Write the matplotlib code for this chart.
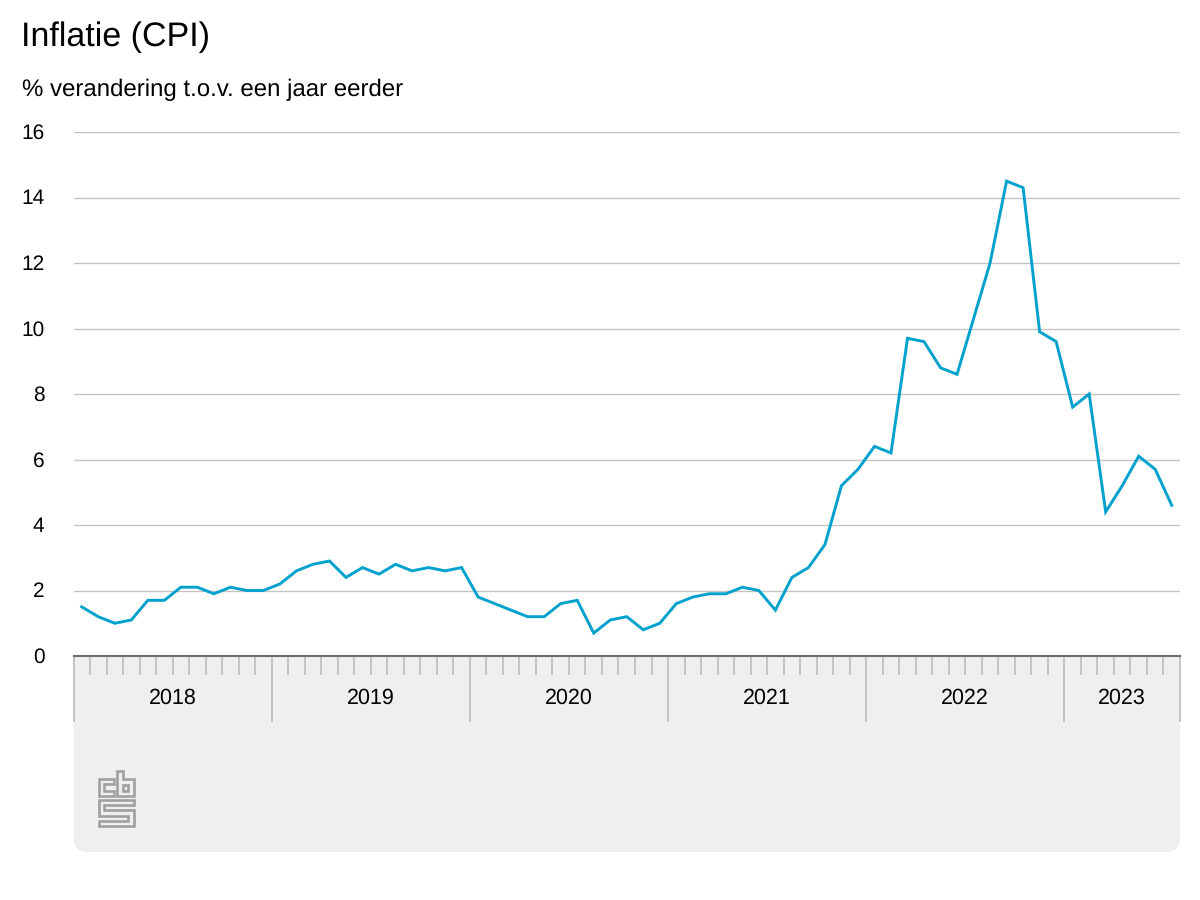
import matplotlib
import matplotlib.pyplot as plt
import numpy as np
from matplotlib.patches import PathPatch
from matplotlib.path import Path
from matplotlib.transforms import Affine2D, ScaledTranslation

plt.switch_backend("agg")
plt.rcParams["font.family"] = ["Liberation Sans", "DejaVu Sans"]
plt.rcParams["text.hinting"] = "no_hinting"

W, H = 1200, 900
LEFT, RIGHT, TOP, BOTTOM = 73.5, 1180.0, 132.0, 656.0

GRID = "#c4c4c4"
BAND = "#efefef"
LINE = "#00a1cd"

CPI = {
    2018: [1.5, 1.2, 1.0, 1.1, 1.7, 1.7, 2.1, 2.1, 1.9, 2.1, 2.0, 2.0],
    2019: [2.2, 2.6, 2.8, 2.9, 2.4, 2.7, 2.5, 2.8, 2.6, 2.7, 2.6, 2.7],
    2020: [1.8, 1.6, 1.4, 1.2, 1.2, 1.6, 1.7, 0.7, 1.1, 1.2, 0.8, 1.0],
    2021: [1.6, 1.8, 1.9, 1.9, 2.1, 2.0, 1.4, 2.4, 2.7, 3.4, 5.2, 5.7],
    2022: [6.4, 6.2, 9.7, 9.6, 8.8, 8.6, 10.3, 12.0, 14.5, 14.3, 9.9, 9.6],
    2023: [7.6, 8.0, 4.4, 5.2, 6.1, 5.7, 4.6],
}

# logo outlines, in pixels of the picture
LOGO = [
    [(114, 779), (99, 779), (99, 796), (114, 796), (114, 791), (104, 791), (104, 784), (114, 784)],
    [(117, 771), (123, 771), (123, 779), (133.5, 779), (133.5, 796), (117, 796)],
    [(123, 785), (128, 785), (128, 791), (123, 791)],
    [(133.5, 800), (99, 800), (99, 816), (128, 816), (128, 821), (99, 821), (99, 826),
     (133.5, 826), (133.5, 810), (104, 810), (104, 805), (133.5, 805)],
]


def draw_band(fig, px):
    l, r, t, b, c = LEFT, RIGHT, BOTTOM, 852.0, 14.0
    verts = [(l, t), (r, t), (r, b - c), (r, b), (r - c, b), (l + c, b), (l, b), (l, b - c), (l, t)]
    codes = [Path.MOVETO, Path.LINETO, Path.LINETO, Path.CURVE3, Path.CURVE3,
             Path.LINETO, Path.CURVE3, Path.CURVE3, Path.CLOSEPOLY]
    fig.add_artist(PathPatch(Path(verts, codes), transform=px, facecolor=BAND, edgecolor="none", zorder=-5))


def draw_logo(fig, px):
    for outline in LOGO:
        path = Path(outline + [outline[0]], closed=True)
        fig.add_artist(PathPatch(path, transform=px, facecolor="none", edgecolor="#a0a0a0",
                                 linewidth=1.9, joinstyle="miter", zorder=-4))


def main():
    fig = plt.figure(figsize=(W / 100, H / 100), dpi=100)
    px = Affine2D().scale(1 / W, -1 / H).translate(0, 1) + fig.transFigure

    draw_band(fig, px)
    draw_logo(fig, px)

    ax = fig.add_axes([LEFT / W, 1 - BOTTOM / H, (RIGHT - LEFT) / W, (BOTTOM - TOP) / H])
    ax.patch.set_alpha(0)

    values = np.concatenate([CPI[y] for y in CPI])
    x = np.arange(len(values)) + 0.5
    ax.plot(x, values, color=LINE, linewidth=2.1, solid_joinstyle="miter", zorder=3, clip_on=False)

    ax.set_xlim(0, len(values))
    ax.set_ylim(0, 16)
    ax.set_yticks(np.arange(0, 17, 2))
    ax.tick_params(axis="y", length=0, pad=21, labelsize=15, labelcolor="#000000")
    shift = ScaledTranslation(0, -1.5 / 100, fig.dpi_scale_trans)
    for label in ax.get_yticklabels():
        label.set_verticalalignment("center")
        label.set_transform(label.get_transform() + shift)
    ax.grid(axis="y", color=GRID, linewidth=1.0)
    ax.set_axisbelow(True)

    starts = np.cumsum([0] + [len(CPI[y]) for y in CPI])
    months = [m for m in range(len(values) + 1) if m not in starts]
    ax.set_xticks(starts)
    ax.set_xticks(months, minor=True)
    ax.tick_params(axis="x", which="major", length=47.5, width=1.4, color=GRID, labelbottom=False)
    ax.tick_params(axis="x", which="minor", length=14, width=1.4, color=GRID)

    for spine in ["top", "left", "right"]:
        ax.spines[spine].set_visible(False)
    ax.spines["bottom"].set_color("#6e6e6e")
    ax.spines["bottom"].set_linewidth(1.5)
    ax.spines["bottom"].set_zorder(4)

    for i, year in enumerate(CPI):
        ax.text((starts[i] + starts[i + 1]) / 2, -0.0805, str(year), transform=ax.get_xaxis_transform(),
                ha="center", va="center", fontsize=15.5, color="#000000")

    fig.text(21 / W, 1 - 37 / H, "Inflatie (CPI)", fontsize=24.5, ha="left", va="center", color="#000000")
    fig.text(22 / W, 1 - 90 / H, "% verandering t.o.v. een jaar eerder", fontsize=17.3,
             ha="left", va="center", color="#000000")

    fig.savefig("out.png", dpi=100, facecolor="white")
    plt.close(fig)


if __name__ == "__main__":
    main()
